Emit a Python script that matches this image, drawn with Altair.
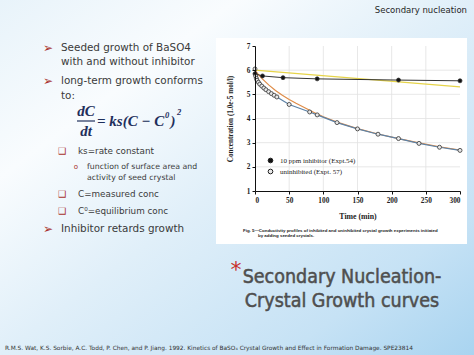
import altair as alt
import pandas as pd

# ---------------- data ----------------
inh_time = [0, 11, 41, 91, 210, 300]
inh_conc = [5.85, 5.76, 5.69, 5.64, 5.59, 5.56]

uni_time = [0, 1, 2, 3, 5, 7, 10, 13, 16, 20, 24, 28, 32, 50, 80, 91, 120, 150, 180, 210, 240, 270, 300]
uni_conc = [6.05, 5.75, 5.66, 5.58, 5.50, 5.42, 5.34, 5.26, 5.19, 5.11, 5.03, 4.96, 4.89,
            4.58, 4.27, 4.15, 3.83, 3.57, 3.35, 3.17, 2.97, 2.81, 2.68]

fit_time = [0, 5, 10, 20, 30, 40, 50, 60, 80, 90, 100, 120, 150, 180, 210, 240, 270, 300]
fit_conc = [6.0, 5.82, 5.66, 5.39, 5.16, 4.96, 4.79, 4.63, 4.34, 4.20, 4.07, 3.85, 3.58,
            3.36, 3.17, 2.99, 2.83, 2.69]

lin_time = [0, 300]
lin_conc = [6.0, 5.31]

series_names = ["10 ppm inhibitor (Expt.54)", "uninhibited (Expt. 57)"]
x_ticks = [0, 50, 100, 150, 200, 250, 300]
y_ticks = [1, 2, 3, 4, 5, 6, 7]

# ---------------- layout ----------------
PAGE_W, PAGE_H = 474, 355
PX, PY = 255, 46          # plot origin on the page
W, H = 205, 145           # plot area


def vx(x):
    return alt.value(x - PX)


def vy(y):
    return alt.value(y - PY)


one = pd.DataFrame({"a": [0]})

pts_df = pd.DataFrame({
    "t": inh_time + uni_time,
    "c": inh_conc + uni_conc,
    "series": [series_names[0]] * len(inh_time) + [series_names[1]] * len(uni_time),
})
fit_df = pd.DataFrame({"t": fit_time, "c": fit_conc})
lin_df = pd.DataFrame({"t": lin_time, "c": lin_conc})
xg_df = pd.DataFrame({"t": x_ticks[1:-1]})
yg_df = pd.DataFrame({"c": y_ticks[1:-1]})

SERIF = "Liberation Serif"
SANS = "DejaVu Sans"

x_scale = alt.Scale(domain=[0, 300], nice=False)
y_scale = alt.Scale(domain=[1, 7], nice=False)

x_enc = alt.X("t:Q", scale=x_scale, axis=alt.Axis(
    values=x_ticks, title="Time (min)", grid=False, zindex=1,
    labelFont=SERIF, labelFontSize=7.3, labelFontWeight="bold", labelColor="#222",
    titleFont=SERIF, titleFontSize=7.8, titleFontWeight="bold", titleColor="#222",
    titlePadding=9, tickSize=3, tickColor="#111", domainColor="#111", labelPadding=2))
y_enc = alt.Y("c:Q", scale=y_scale, axis=alt.Axis(
    values=y_ticks, title="Concentration  (1.0e-5  mol/l)", grid=False, zindex=1,
    labelFont=SERIF, labelFontSize=7.3, labelFontWeight="bold", labelColor="#222",
    titleFont=SERIF, titleFontSize=7.2, titleFontWeight="bold", titleColor="#222",
    titlePadding=12, tickSize=3, tickColor="#111", domainColor="#111", labelPadding=2))

# page background (gradient) and the white figure panel
bg = alt.Chart(one).mark_rect(color=alt.LinearGradient(
    gradient="linear", x1=0, y1=0, x2=1, y2=1,
    stops=[alt.GradientStop(offset=0, color="#e8f3fa"),
           alt.GradientStop(offset=0.25, color="#f9fcfe"),
           alt.GradientStop(offset=0.5, color="#e0eff9"),
           alt.GradientStop(offset=0.8, color="#c6e2f5"),
           alt.GradientStop(offset=1, color="#a9d4f0")])).encode(
    x=vx(0), x2=vx(PAGE_W), y=vy(0), y2=vy(PAGE_H))

panel = alt.Chart(one).mark_rect(color="white").encode(
    x=vx(216), x2=vx(467), y=vy(38), y2=vy(244))

xgrid = alt.Chart(xg_df).mark_rule(color="#e2e2e2", strokeWidth=0.8).encode(x=x_enc)
ygrid = alt.Chart(yg_df).mark_rule(color="#e2e2e2", strokeWidth=0.8).encode(y=y_enc)

yellow = alt.Chart(lin_df).mark_line(color="#e6d44a", strokeWidth=1.3).encode(x=x_enc, y=y_enc)
orange = alt.Chart(fit_df).mark_line(color="#df8c48", strokeWidth=1.2).encode(x=x_enc, y=y_enc)
blue = alt.Chart(pts_df).transform_filter(alt.datum.series == series_names[1]).mark_line(
    color="#5d82a6", strokeWidth=1.2).encode(x=x_enc, y=y_enc)
dark = alt.Chart(pts_df).transform_filter(alt.datum.series == series_names[0]).mark_line(
    color="#333", strokeWidth=1).encode(x=x_enc, y=y_enc)

points = alt.Chart(pts_df).mark_point(filled=True, size=16, stroke="#333", strokeWidth=0.8,
                                       opacity=1).encode(
    x=x_enc, y=y_enc,
    fill=alt.Fill("series:N", scale=alt.Scale(domain=series_names, range=["#111", "#e8e8e8"]),
                  legend=alt.Legend(orient="none", legendX=12, legendY=111, title=None,
                                    labelFont=SERIF, labelFontSize=7, labelColor="#222",
                                    symbolType="circle", symbolSize=22,
                                    symbolStrokeColor="#222", symbolStrokeWidth=1,
                                    rowPadding=2, labelOffset=6)))


def txt(s, x, y, size, color="#3a3a3a", font=SANS, weight="normal", style="normal",
        align="left", baseline="middle", stroke=None, sw=0):
    kw = dict(text=s, font=font, fontSize=size, color=color, fontWeight=weight,
              fontStyle=style, align=align, baseline=baseline)
    if stroke:
        kw.update(stroke=stroke, strokeWidth=sw)
    return alt.Chart(one).mark_text(**kw).encode(x=vx(x), y=vy(y))


RED = "#a8322d"
GRAY = "#3a3a3a"
MATH = "#1f2f5c"
MFONT = "Liberation Serif"
TFONT = "'DejaVu Sans Condensed', 'Liberation Sans Narrow', 'DejaVu Sans'"
texts = [
    txt("Secondary nucleation", 467, 10, 8.5, color="#262626", align="right"),
    # bullets
    txt("➢", 48, 48, 12, color=RED, align="center"),
    txt("Seeded growth of BaSO4", 61, 48, 10.4, GRAY),
    txt("with and without inhibitor", 61, 62, 10.4, GRAY),
    txt("➢", 48, 81, 12, color=RED, align="center"),
    txt("long-term growth conforms", 61, 81, 10.4, GRAY),
    txt("to:", 61, 96, 10.4, GRAY),
    # formula
    txt("dC", 86, 111, 15, MATH, font=MFONT, weight="bold", style="italic", align="center"),
    txt("dt", 86, 131, 15, MATH, font=MFONT, weight="bold", style="italic", align="center"),
    txt("= ks(C − C", 97, 121, 15, MATH, font=MFONT, weight="bold", style="italic"),
    txt("0", 167, 115, 8.5, MATH, font=MFONT, weight="bold", style="italic", align="center"),
    txt(")", 170.5, 121, 15, MATH, font=MFONT, weight="bold", style="italic"),
    txt("2", 179, 112, 8.5, MATH, font=MFONT, weight="bold", style="italic", align="center"),
    txt("❑", 62, 151, 9, color=RED, align="center"),
    txt("ks=rate constant", 78, 151, 8.8, GRAY),
    txt("o", 76, 167, 7, color=RED, align="center"),
    txt("function of surface area and", 87, 167, 7.8, GRAY),
    txt("activity of seed crystal", 87, 178, 7.8, GRAY),
    txt("❑", 62, 194, 9, color=RED, align="center"),
    txt("C=measured conc", 78, 194, 8.8, GRAY),
    txt("❑", 62, 211, 9, color=RED, align="center"),
    txt("C⁰=equilibrium conc", 78, 211, 8.8, GRAY),
    txt("➢", 48, 229, 12, color=RED, align="center"),
    txt("Inhibitor retards growth", 61, 229, 10.4, GRAY),
    # figure caption
    txt("Fig. 5—Conductivity profiles of inhibited and uninhibited crystal growth experiments initiated",
        243, 231, 4.4, "#222", font="Liberation Sans", weight="bold"),
    txt("by adding seeded crystals.", 258, 236, 4.4, "#222", font="Liberation Sans", weight="bold"),
    # slide title
    txt("*", 236, 270, 22, color="#c8302b", align="center"),
    txt("Secondary Nucleation-", 342, 277, 19.5, "#4f4f4f", font=TFONT, align="center",
        stroke="#4f4f4f", sw=0.5),
    txt("Crystal Growth curves", 342, 301, 19.5, "#4f4f4f", font=TFONT, align="center",
        stroke="#4f4f4f", sw=0.5),
    txt("R.M.S. Wat, K.S. Sorbie, A.C. Todd, P. Chen, and P. Jiang.  1992. Kinetics of BaSO₄ Crystal Growth and Effect in Formation Damage.  SPE23814",
        5, 348, 5.85, "#333"),
]

frac = alt.Chart(one).mark_rule(color=MATH, strokeWidth=1.2).encode(
    x=vx(77), x2=vx(95), y=vy(121))

chart = alt.layer(bg, panel, xgrid, ygrid, yellow, orange, blue, dark, points, frac, *texts).properties(
    width=W, height=H,
    padding={"left": PX, "top": PY, "right": PAGE_W - PX - W, "bottom": PAGE_H - PY - H},
    autosize=alt.AutoSizeParams(type="none"),
).configure_view(stroke="#111", strokeWidth=1).configure(background="white")

chart.save("out.html", embed_options={"renderer": "svg", "actions": False})
